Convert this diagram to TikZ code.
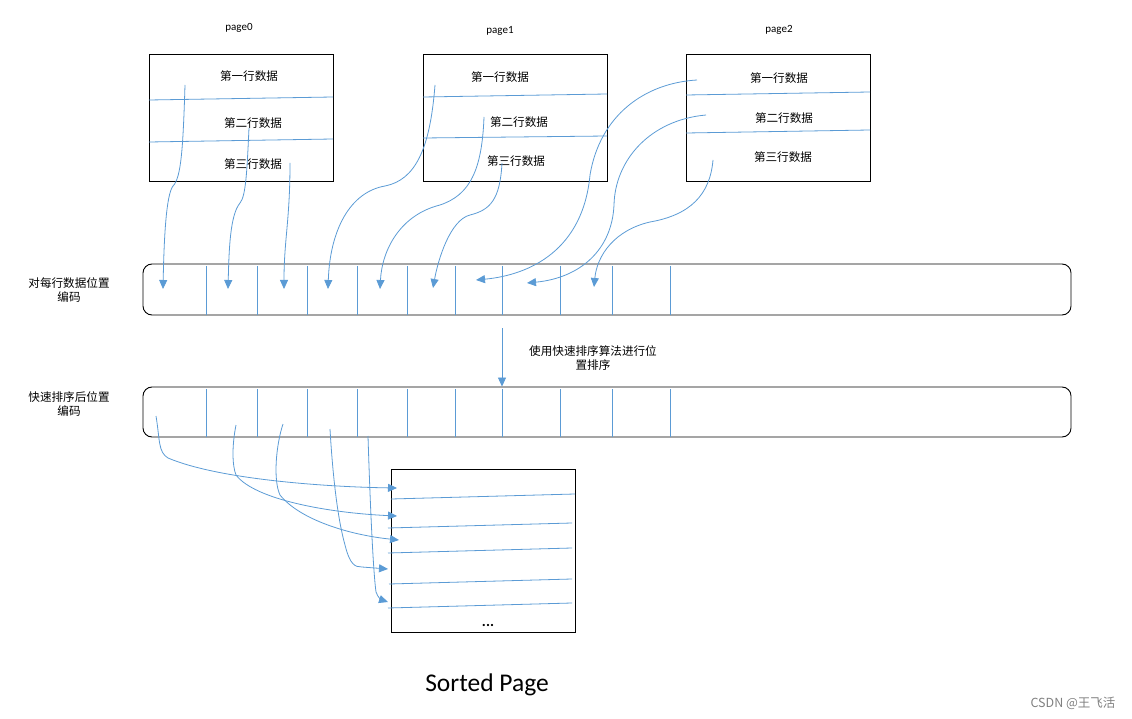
\documentclass[tikz,border=0pt]{standalone}
\usepackage{fontspec}
\setmainfont{Carlito}
\newfontfamily\cjk{Noto Sans CJK SC}
\usetikzlibrary{arrows.meta}
\definecolor{lineblue}{RGB}{91,155,213}
\tikzset{
  pagebox/.style={draw, line width=0.9pt, minimum width=184pt, minimum height=127pt, inner sep=0pt},
  band/.style={draw, line width=0.9pt, rounded corners=9pt, minimum width=928pt, minimum height=51pt, inner sep=0pt},
  cn/.style={font=\cjk\fontsize{11.6}{14}\selectfont, inner sep=0pt, align=center},
  en/.style={font=\fontsize{11}{13}\selectfont, inner sep=0pt},
  rowline/.style={lineblue, line width=0.8pt},
  flow/.style={lineblue, line width=0.8pt, -{Triangle[length=9pt,width=8pt]}},
}

\begin{document}
\begin{tikzpicture}[x=1pt,y=-1pt]
\useasboundingbox (0,0) rectangle (1132,719);
% the three pages
\node[pagebox] (pg0) at (241,117.5) {};
\node[pagebox] (pg1) at (515,117.5) {};
\node[pagebox] (pg2) at (778,117.5) {};
\node[en] (t0) at (239,28) {page0};
\node[en] (t1) at (500,31) {page1};
\node[en] (t2) at (779,30) {page2};
\draw[rowline] (149,100) -- (333,97);
\draw[rowline] (149,142) -- (333,139);
\draw[rowline] (423,97) -- (607,94);
\draw[rowline] (423,138) -- (607,136);
\draw[rowline] (686,95) -- (870,92);
\draw[rowline] (686,133) -- (870,130);
\node[cn] (r01) at (249,76) {第一行数据};
\node[cn] (r02) at (253,123) {第二行数据};
\node[cn] (r03) at (253,164) {第三行数据};
\node[cn] (r11) at (500,77) {第一行数据};
\node[cn] (r12) at (519,122) {第二行数据};
\node[cn] (r13) at (516,161) {第三行数据};
\node[cn] (r21) at (779,78) {第一行数据};
\node[cn] (r22) at (784,118) {第二行数据};
\node[cn] (r23) at (783,157) {第三行数据};
% position bands
\node[band] (enc) at (607,289.5) {};
\node[band, minimum height=50pt] (srt) at (607,412) {};
\node[cn] (lenc) at (69,290) {对每行数据位置\\编码};
\node[cn] (lsrt) at (69,404) {快速排序后位置\\编码};
\foreach \x in {206,257,307,357,407,455,502,560,612,670}{
  \draw[rowline] (\x,266) -- (\x,315);
  \draw[rowline] (\x,389) -- (\x,437);
}
% rows -> encoded positions
\foreach \n/\x/\y/\u/\v in {1/185/85/163/289, 2/249/128/228/289, 3/290/163/284/289,
    4/435/85/328/289, 5/484/117/380/289, 6/502/163/433/288,
    7/697/80/476/280, 8/706/115/527/283, 9/713/160/594/287}{
  \coordinate (s\n) at (\x,\y);
  \coordinate (e\n) at (\u,\v);
}
\draw[flow] (s1) .. controls (183,150) and (181,178) .. (173,186) .. controls (166,195) and (164,240) .. (e1);
\draw[flow] (s2) .. controls (247,170) and (246,196) .. (240,203) .. controls (230,215) and (229,250) .. (e2);
\draw[flow] (s3) .. controls (290,220) and (284,240) .. (e3);
\draw[flow] (s4) .. controls (430,150) and (415,180) .. (385,186) .. controls (350,192) and (330,230) .. (e4);
\draw[flow] (s5) .. controls (482,170) and (470,195) .. (440,205) .. controls (400,215) and (382,250) .. (e5);
\draw[flow] (s6) .. controls (500,200) and (490,210) .. (470,215) .. controls (450,220) and (438,260) .. (e6);
\draw[flow] (s7) .. controls (645,83) and (600,115) .. (590,175) .. controls (583,250) and (530,275) .. (e7);
\draw[flow] (s8) .. controls (650,120) and (615,160) .. (614,205) .. controls (612,250) and (580,278) .. (e8);
\draw[flow] (s9) .. controls (710,195) and (690,215) .. (650,222) .. controls (615,230) and (597,255) .. (e9);
% quick sort step
\coordinate (qs) at (502,328);
\draw[flow] (qs) -- (qs |- srt.north);
\node[cn] (lqs) at (593,358) {使用快速排序算法进行位\\置排序};
% sorted page
\node[pagebox, minimum height=163pt] (spage) at (483,550.5) {};
\draw[rowline] (391,499) -- (575,494);
\draw[rowline] (388,528) -- (572,523);
\draw[rowline] (388,553) -- (572,548);
\draw[rowline] (389,584) -- (572,579);
\draw[rowline] (388,608) -- (572,603);
\node[font=\bfseries\fontsize{15}{15}\selectfont, inner sep=0pt] (dots) at (488,625) {...};
\node[font=\fontsize{25.5}{28}\selectfont, inner sep=0pt] (cap) at (487,685) {Sorted Page};
\foreach \n/\x/\y/\u/\v in {1/156/416/397/488, 2/236/425/397/516, 3/283/424/399/540,
    4/330/429/388/569, 5/368/436/388/602}{
  \coordinate (p\n) at (\x,\y);
  \coordinate (q\n) at (\u,\v);
}
\draw[flow] (p1) .. controls (160,440) and (158,452) .. (168,458) .. controls (220,480) and (330,487) .. (q1);
\draw[flow] (p2) .. controls (232,445) and (232,465) .. (236,475) .. controls (255,500) and (330,513) .. (q2);
\draw[flow] (p3) .. controls (276,445) and (273,480) .. (280,495) .. controls (300,520) and (350,535) .. (q3);
\draw[flow] (p4) .. controls (333,480) and (338,520) .. (345,545) .. controls (350,565) and (355,567) .. (362,567) -- (q4);
\draw[flow] (p5) .. controls (370,500) and (373,570) .. (376,592) .. controls (378,598) and (382,600) .. (q5);
\node[cn, text=gray, font=\cjk\fontsize{12.5}{14}\selectfont] (wm) at (1073,703) {CSDN @王飞活};
\end{tikzpicture}
\end{document}
